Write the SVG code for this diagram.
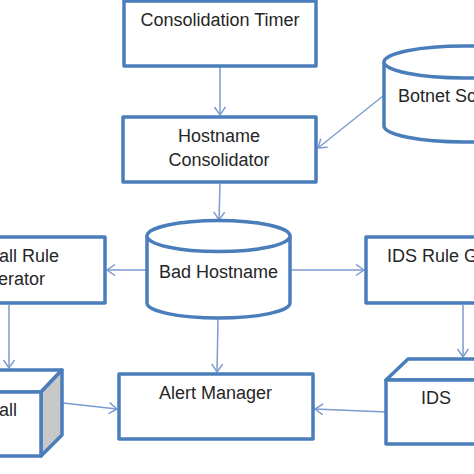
<svg xmlns="http://www.w3.org/2000/svg" width="474" height="474" viewBox="0 0 474 474">
<defs>
<style>
.box{fill:#fff;stroke:#4a7ebb;stroke-width:3.5;stroke-linejoin:round}
.side{fill:#c8c8c8;stroke:#4a7ebb;stroke-width:3.5;stroke-linejoin:round}
.t{font-family:"Liberation Sans",Arial,sans-serif;font-size:18px;fill:#262626}
.c{text-anchor:middle}
.conn{stroke:#7b9bcf;stroke-width:1.5;fill:none;marker-end:url(#arr)}
</style>
<marker id="arr" markerUnits="userSpaceOnUse" markerWidth="14" markerHeight="14" refX="9" refY="6" orient="auto">
<path d="M1,0.5 L9,6 L1,11.5" fill="none" stroke="#7b9bcf" stroke-width="1.5"/>
</marker>
</defs>
<rect width="474" height="474" fill="#fff"/>
<g id="connectors">
<line class="conn" x1="220" y1="67" x2="220" y2="115"/>
<line class="conn" x1="383" y1="96" x2="318" y2="148"/>
<line class="conn" x1="220" y1="184" x2="219" y2="220"/>
<line class="conn" x1="147" y1="270" x2="107" y2="270"/>
<line class="conn" x1="290" y1="270" x2="364" y2="270"/>
<line class="conn" x1="9" y1="305" x2="9" y2="368"/>
<line class="conn" x1="463" y1="305" x2="463" y2="357"/>
<line class="conn" x1="218" y1="319" x2="217" y2="372"/>
<line class="conn" x1="63" y1="403" x2="117" y2="409"/>
<line class="conn" x1="386" y1="412" x2="315" y2="409"/>
</g>
<g id="consolidation-timer">
<rect class="box" x="124" y="1" width="192" height="65"/>
<text class="t c" x="220" y="26">Consolidation Timer</text>
</g>
<g id="botnet-scanner">
<path class="box" d="M384,62 A80,16 0 0 1 544,62 L544,126 A80,16 0 0 1 384,126 Z"/>
<path class="box" d="M384,62 A80,16 0 0 0 544,62" fill="none"/>
<text class="t" x="398" y="102">Botnet Sc</text>
</g>
<g id="hostname-consolidator">
<rect class="box" x="123" y="117" width="193" height="65"/>
<text class="t c" x="219" y="142">Hostname</text>
<text class="t c" x="219" y="166">Consolidator</text>
</g>
<g id="bad-hostname">
<path class="box" d="M147,236 A71.5,15.5 0 0 1 290,236 L290,303 A71.5,15 0 0 1 147,303 Z"/>
<path class="box" d="M147,236 A71.5,15.5 0 0 0 290,236" fill="none"/>
<text class="t c" x="218.5" y="278">Bad Hostname</text>
</g>
<g id="firewall-rule-generator">
<rect class="box" x="-70" y="237" width="175" height="66"/>
<text class="t" x="-1" y="262">all Rule</text>
<text class="t" x="-2" y="285">erator</text>
</g>
<g id="ids-rule-generator">
<rect class="box" x="366" y="237" width="140" height="66"/>
<text class="t" x="387" y="262">IDS Rule Ge</text>
</g>
<g id="firewall">
<path class="box" d="M-60,392 L-39,370 L62,370 L41,392 Z"/>
<path class="side" d="M41,392 L62,370 L62,435 L41,456 Z"/>
<rect class="box" x="-60" y="392" width="101" height="64"/>
<text class="t" x="-1" y="416">all</text>
</g>
<g id="alert-manager">
<rect class="box" x="119" y="374" width="194" height="65"/>
<text class="t c" x="215.5" y="399">Alert Manager</text>
</g>
<g id="ids">
<path class="box" d="M386,380 L408,359 L520,359 L498,380 Z"/>
<rect class="box" x="386" y="380" width="112" height="64"/>
<text class="t c" x="436" y="404">IDS</text>
</g>
</svg>
